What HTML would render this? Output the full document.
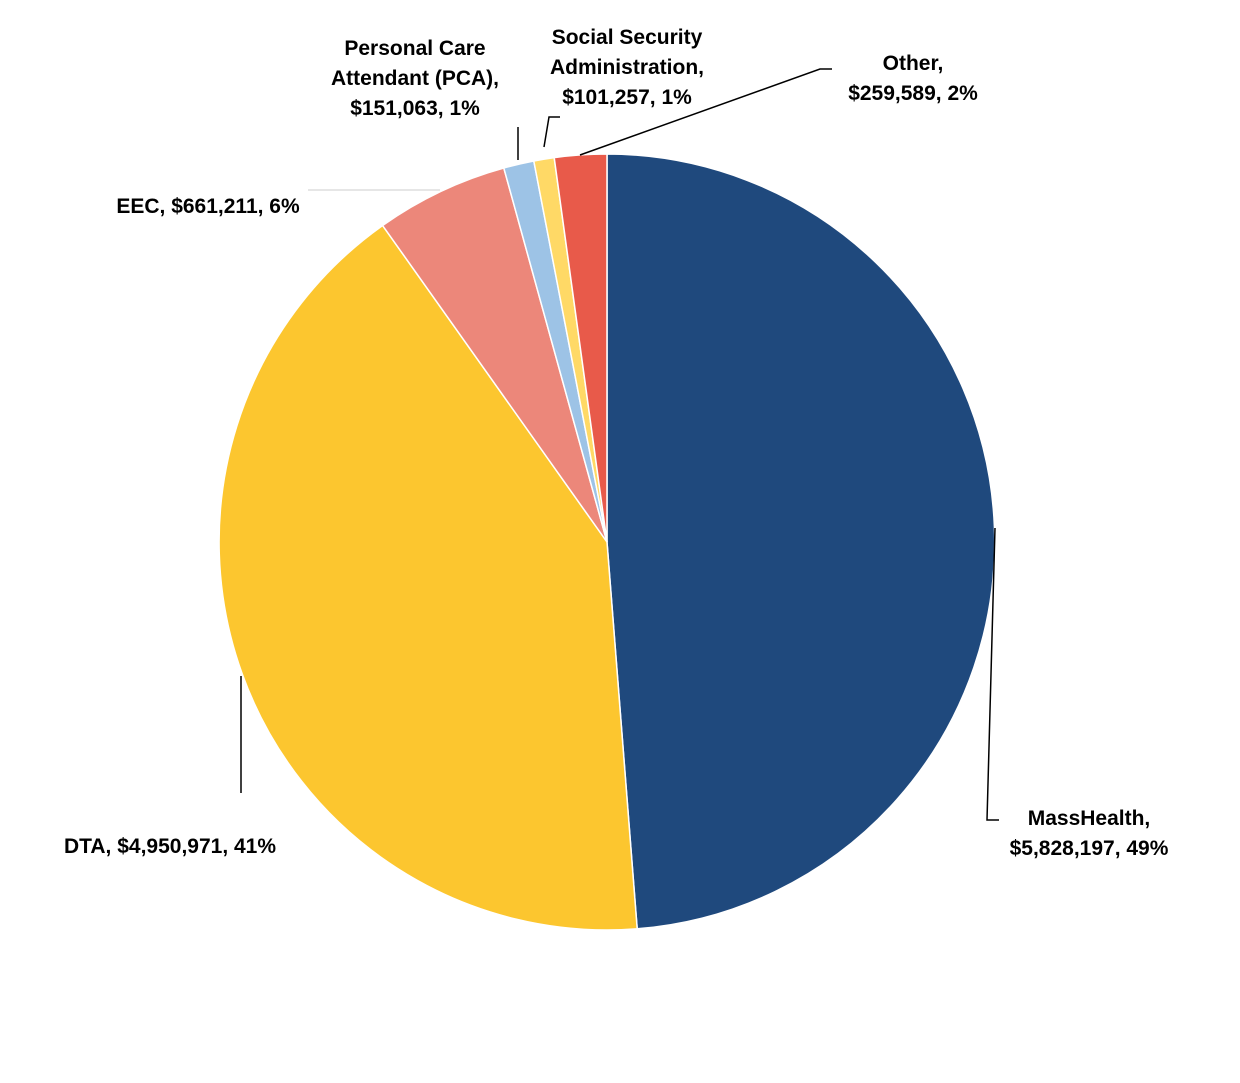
<!DOCTYPE html>
<html><head><meta charset="utf-8"><style>
html,body{margin:0;padding:0;background:#fff;}
svg text{font-family:"Liberation Sans",Arial,sans-serif;font-weight:bold;font-size:21px;fill:#000;}
</style></head><body>
<svg width="1240" height="1078" viewBox="0 0 1240 1078" xmlns="http://www.w3.org/2000/svg">
<g stroke="#fff" stroke-width="1.5">
<path d="M607,542 L607,154 A388,388 0 0 1 637.2,928.8 Z" fill="#1F497D"/>
<path d="M607,542 L637.2,928.8 A388,388 0 0 1 382.6,225.5 Z" fill="#FCC62F"/>
<path d="M607,542 L382.6,225.5 A388,388 0 0 1 503.8,168 Z" fill="#EC877A"/>
<path d="M607,542 L503.8,168 A388,388 0 0 1 533.8,161 Z" fill="#9DC3E6"/>
<path d="M607,542 L533.8,161 A388,388 0 0 1 554.2,157.6 Z" fill="#FFD966"/>
<path d="M607,542 L554.2,157.6 A388,388 0 0 1 607,154 Z" fill="#E85A4A"/>
</g>
<g stroke="#000" stroke-width="1.5" fill="none">
<polyline points="995,528 987,820 999,820"/>
<line x1="241" y1="676" x2="241" y2="793"/>
<polyline points="580,155 820,69 832,69"/>
<polyline points="544,147 549,117 560,117"/>
<line x1="518" y1="127" x2="518" y2="160"/>
</g>
<line x1="308" y1="190" x2="440" y2="190" stroke="#ccc" stroke-width="1"/>
<g text-anchor="middle">
<text x="415" y="55">Personal Care</text>
<text x="415" y="85">Attendant (PCA),</text>
<text x="415" y="115">$151,063, 1%</text>
<text x="627" y="44">Social Security</text>
<text x="627" y="74">Administration,</text>
<text x="627" y="104">$101,257, 1%</text>
<text x="913" y="70">Other,</text>
<text x="913" y="100">$259,589, 2%</text>
<text x="208" y="213">EEC, $661,211, 6%</text>
<text x="170" y="853">DTA, $4,950,971, 41%</text>
<text x="1089" y="825">MassHealth,</text>
<text x="1089" y="855">$5,828,197, 49%</text>
</g>
</svg>
</body></html>
